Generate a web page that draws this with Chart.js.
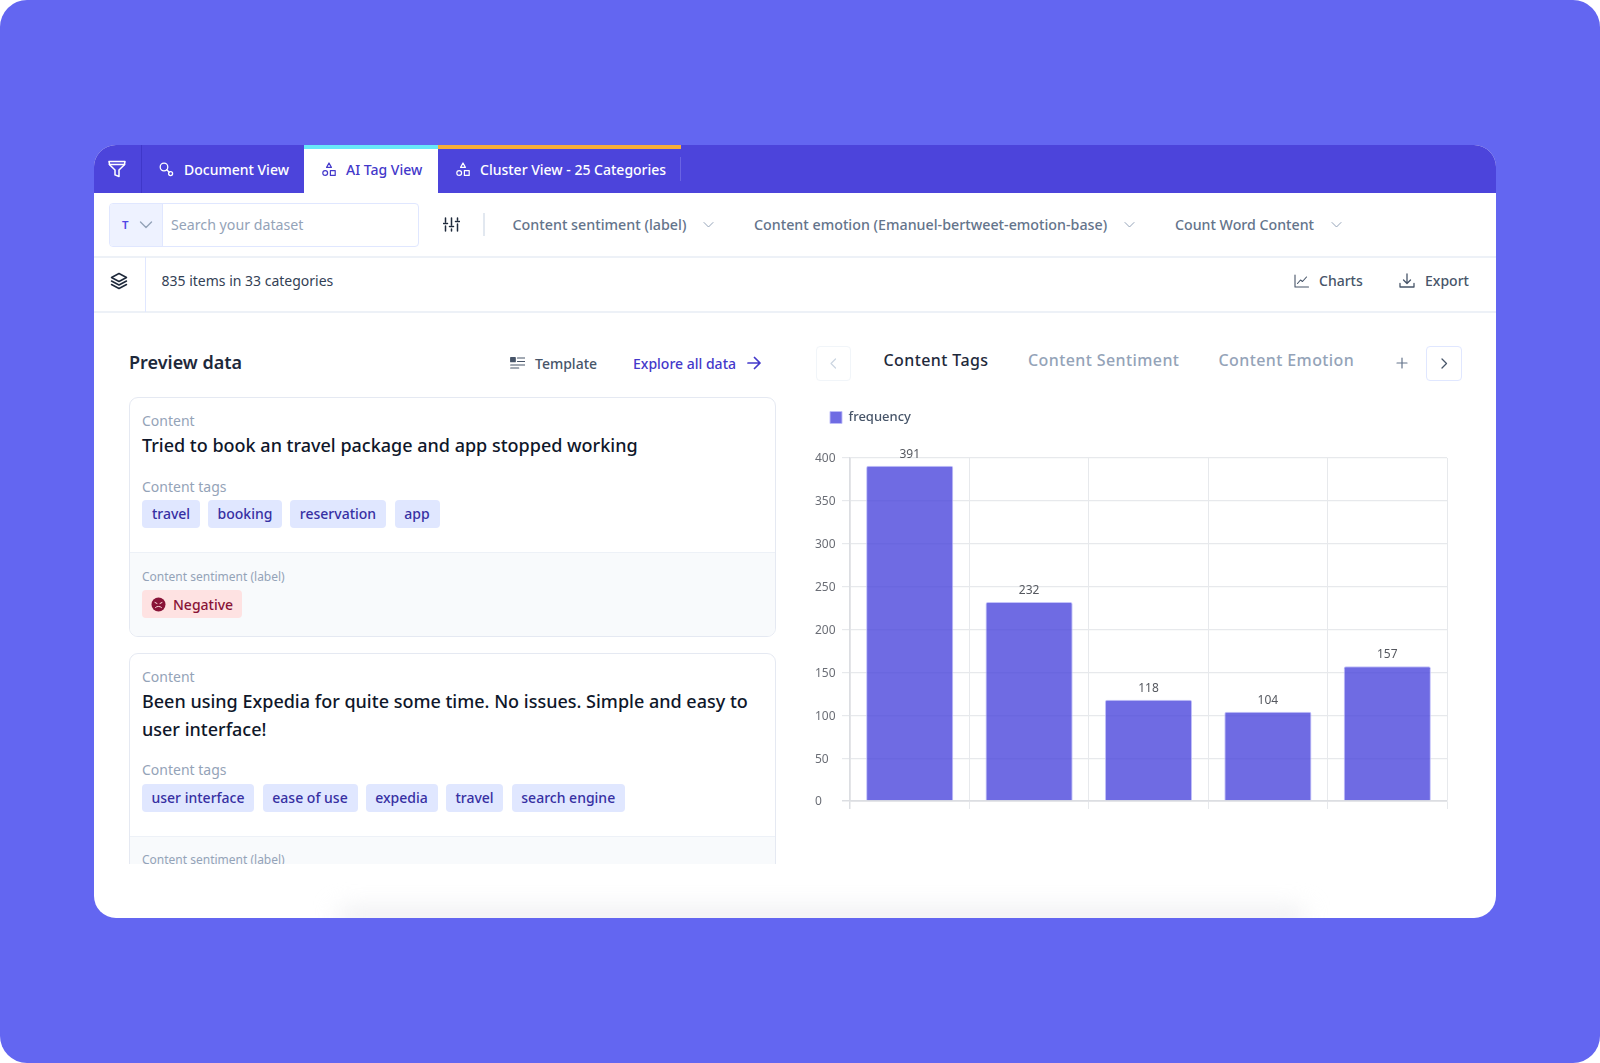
<!DOCTYPE html>
<html>
<head>
<meta charset="utf-8">
<title>AI Tag View</title>
<script src="https://cdn.jsdelivr.net/npm/chart.js@4/dist/chart.umd.min.js"></script>
<style>
html, body { margin: 0; padding: 0; background: #fff; }
body { width: 1600px; height: 1063px; overflow: hidden; position: relative; font-family: "Noto Sans", sans-serif; }
#page { position: absolute; inset: 0; background: #6366f1; border-radius: 27px; overflow: hidden; }
.abs { position: absolute; }
.t { position: absolute; white-space: nowrap; transform: translateY(-50%); line-height: 1.2; }
.box { position: absolute; box-sizing: border-box; }
.chip { position: absolute; box-sizing: border-box; height: 28px; line-height: 28.5px; background: #e0e7ff; color: #3730a3; border-radius: 4px; font-size: 14px; font-weight: 500; text-align: center; white-space: nowrap; }
svg { position: absolute; fill: none; stroke-linecap: round; stroke-linejoin: round; }
#chartWrap { position: absolute; left: 815px; top: 396px; width: 634px; height: 413px; }
</style>
</head>
<body>
<div id="page"></div>

<!-- white card with header band and bottom shadow -->
<div class="abs" style="left:94px;top:145px;width:1402px;height:773px;border-radius:22px;overflow:hidden;background:#fff;">
  <div class="abs" style="left:0;top:0;width:1402px;height:47.500px;background:#4c44db;"></div>
  <div class="abs" style="left:245px;top:766px;width:965px;height:12px;background:#e4e5e9;filter:blur(12px);"></div>
</div>

<!-- tab strip -->
<div class="abs" style="left:141px;top:145px;width:1px;height:47.500px;background:#3f37c9;"></div>
<div class="abs" style="left:304px;top:149px;width:134px;height:44px;background:#fff;"></div>
<div class="abs" style="left:304px;top:145px;width:134px;height:4px;background:#67e8f9;"></div>
<div class="abs" style="left:438px;top:145px;width:243px;height:4px;background:#f6ad37;"></div>
<div class="abs" style="left:680px;top:157px;width:1px;height:24px;background:#6a63e3;"></div>
<svg style="left:108px;top:160px" width="18" height="18" viewBox="0 0 18 18" stroke="#fff" stroke-width="1.5"><path d="M1 1.500h16l-.6 3.200L11 10v6.500l-4-1.600V10L1.600 4.700z"/><path d="M1.400 4.600h15.200"/></svg>
<svg style="left:159px;top:162px" width="15" height="15" viewBox="0 0 15 15" stroke="#fff" stroke-width="1.3"><circle cx="5" cy="5" r="3.800"/><path d="M7.800 7.800l2.400 2.400"/><circle cx="11.600" cy="11.600" r="2"/></svg>
<span class="t" style="left:184px;top:169.500px;font-size:14px;font-weight:500;color:#fff;">Document View</span>
<svg style="left:322px;top:162px" width="14" height="15" viewBox="0 0 14 15" stroke="#4338ca" stroke-width="1.2"><path d="M7 1l2.400 4.400H4.600z"/><circle cx="3.200" cy="11" r="2.400"/><rect x="8.400" y="8.600" width="4.800" height="4.800"/></svg>
<span class="t" style="left:346px;top:169.500px;font-size:14px;font-weight:500;color:#4338ca;">AI Tag View</span>
<svg style="left:456px;top:162px" width="14" height="15" viewBox="0 0 14 15" stroke="#fff" stroke-width="1.2"><path d="M7 1l2.400 4.400H4.600z"/><circle cx="3.200" cy="11" r="2.400"/><rect x="8.400" y="8.600" width="4.800" height="4.800"/></svg>
<span class="t" style="left:480px;top:169.500px;font-size:14px;font-weight:500;color:#fff;">Cluster View - 25 Categories</span>

<!-- toolbar -->
<div class="box" style="left:109px;top:203px;width:310px;height:44px;border:1.500px solid #e0e7ff;border-radius:4px;"></div>
<div class="box" style="left:110px;top:204px;width:53px;height:42px;background:#eef2ff;border-right:1px solid #e0e7ff;border-radius:3px 0 0 3px;"></div>
<span class="t" style="left:122px;top:225px;font-size:11.500px;font-weight:600;color:#4f46e5;">T</span>
<svg style="left:139px;top:220px" width="14" height="10" viewBox="0 0 14 10" stroke="#94a3b8" stroke-width="1.4"><path d="M1.500 2l5.500 5.500L12.500 2"/></svg>
<span class="t" style="left:171px;top:225px;font-size:14.200px;color:#94a3b8;">Search your dataset</span>
<svg style="left:443px;top:217px" width="17" height="15" viewBox="0 0 17 15" stroke="#1e293b" stroke-width="1.5"><path d="M2.500 1v4M2.500 9v5M8.500 1v7M8.500 12v2M14.500 1v2M14.500 7v7M.5 6.500h4M6.500 9.500h4M12.500 4.500h4"/></svg>
<div class="abs" style="left:483px;top:213px;width:1.500px;height:23px;background:#e2e8f0;"></div>
<span class="t" style="left:512.500px;top:225px;font-size:14.300px;font-weight:500;color:#64748b;">Content sentiment (label)</span>
<svg style="left:703px;top:221px" width="11" height="8" viewBox="0 0 11 8" stroke="#94a3b8" stroke-width="1"><path d="M1 1.500l4.500 4.500L10 1.500"/></svg>
<span class="t" style="left:754px;top:225px;font-size:14.280px;font-weight:500;color:#64748b;">Content emotion (Emanuel-bertweet-emotion-base)</span>
<svg style="left:1124px;top:221px" width="11" height="8" viewBox="0 0 11 8" stroke="#94a3b8" stroke-width="1"><path d="M1 1.500l4.500 4.500L10 1.500"/></svg>
<span class="t" style="left:1175px;top:225px;font-size:14.200px;font-weight:500;color:#64748b;">Count Word Content</span>
<svg style="left:1331px;top:221px" width="11" height="8" viewBox="0 0 11 8" stroke="#94a3b8" stroke-width="1"><path d="M1 1.500l4.500 4.500L10 1.500"/></svg>
<div class="abs" style="left:94px;top:256px;width:1402px;height:1.500px;background:#edf1f7;"></div>
<div class="abs" style="left:94px;top:311px;width:1402px;height:1.500px;background:#edf1f7;"></div>
<div class="abs" style="left:145px;top:257px;width:1px;height:55px;background:#e0e7ff;"></div>
<svg style="left:110px;top:272px" width="18" height="18" viewBox="0 0 18 18" stroke="#1e293b" stroke-width="1.5"><path d="M9 1.500l7.500 4-7.500 4-7.500-4zM1.500 9l7.500 4 7.500-4M1.500 12.500l7.500 4 7.500-4"/></svg>
<span class="t" style="left:161.500px;top:281px;font-size:14px;color:#334155;">835 items in 33 categories</span>
<svg style="left:1294px;top:274px" width="15" height="14" viewBox="0 0 15 14" stroke="#475569" stroke-width="1.1"><path d="M1 1v12h13.500M3.500 9.500l3-3.500 2 1.500 4-4.500"/></svg>
<span class="t" style="left:1319px;top:281px;font-size:14px;font-weight:500;color:#475569;">Charts</span>
<svg style="left:1399px;top:273px" width="16" height="16" viewBox="0 0 16 16" stroke="#475569" stroke-width="1.3"><path d="M8 1v9M4.500 7l3.500 3.500L11.500 7M1 10.500v3.500h14v-3.500"/></svg>
<span class="t" style="left:1425px;top:281px;font-size:14px;font-weight:500;color:#475569;">Export</span>

<!-- preview data -->
<span class="t" style="left:129px;top:363px;font-size:18px;font-weight:600;color:#1e293b;">Preview data</span>
<svg style="left:510px;top:357px" width="15" height="12" viewBox="0 0 15 12" stroke="#475569" stroke-width="1.2"><rect x=".7" y=".7" width="4.500" height="4" fill="#475569"/><path d="M7.500 1h7M7.500 4.500h7M.7 8h13.800M.7 11h8"/></svg>
<span class="t" style="left:535px;top:363.500px;font-size:14px;font-weight:500;color:#475569;">Template</span>
<span class="t" style="left:633px;top:363.500px;font-size:14px;font-weight:500;color:#4338ca;">Explore all data</span>
<svg style="left:747px;top:356px" width="14" height="14" viewBox="0 0 14 14" stroke="#4338ca" stroke-width="1.700"><path d="M1 7h12M7.500 1.500L13 7l-5.500 5.500"/></svg>

<div class="box" style="left:129px;top:397px;width:647px;height:240px;border:1.200px solid #e5e9f2;border-radius:9px;overflow:hidden;background:#fff;">
  <div class="abs" style="left:0;top:154px;width:100%;height:90px;background:#f8fafc;border-top:1.500px solid #edf1f7;"></div>
</div>
<span class="t" style="left:142px;top:420.500px;font-size:14px;color:#94a3b8;">Content</span>
<span class="t" style="left:142px;top:446px;font-size:18px;font-weight:500;color:#0f172a;">Tried to book an travel package and app stopped working</span>
<span class="t" style="left:142px;top:486.500px;font-size:14px;color:#94a3b8;">Content tags</span>
<span class="chip" style="left:142px;top:499.500px;width:58px;">travel</span>
<span class="chip" style="left:208px;top:499.500px;width:74px;">booking</span>
<span class="chip" style="left:290px;top:499.500px;width:96px;">reservation</span>
<span class="chip" style="left:394.500px;top:499.500px;width:45px;">app</span>
<span class="t" style="left:142px;top:576.500px;font-size:12px;color:#94a3b8;">Content sentiment (label)</span>
<span class="abs" style="left:142px;top:590px;width:100px;height:28px;background:#fee2e2;border-radius:4px;"></span>
<svg style="left:151px;top:597px" width="15" height="15" viewBox="0 0 15 15"><circle cx="7.500" cy="7.500" r="7" fill="#881337"/><path d="M4.500 10.500c1.500-1.500 4.500-1.500 6 0M4 5.500l2 1M11 5.500l-2 1" stroke="#fee2e2" stroke-width="1"/></svg>
<span class="t" style="left:173px;top:605px;font-size:14px;font-weight:500;color:#881337;">Negative</span>

<div class="abs" style="left:129px;top:653px;width:647px;height:210.500px;overflow:hidden;">
  <div class="box" style="left:0;top:0;width:647px;height:240px;border:1.200px solid #e5e9f2;border-radius:9px;overflow:hidden;background:#fff;">
    <div class="abs" style="left:0;top:181.500px;width:100%;height:60px;background:#f8fafc;border-top:1.500px solid #edf1f7;"></div>
  </div>
  <span class="t" style="left:13px;top:207px;font-size:12px;color:#94a3b8;">Content sentiment (label)</span>
</div>
<span class="t" style="left:142px;top:676.500px;font-size:14px;color:#94a3b8;">Content</span>
<span class="t" style="left:142px;top:702px;font-size:18px;font-weight:500;color:#0f172a;">Been using Expedia for quite some time. No issues. Simple and easy to</span>
<span class="t" style="left:142px;top:730px;font-size:18px;font-weight:500;color:#0f172a;">user interface!</span>
<span class="t" style="left:142px;top:770px;font-size:14px;color:#94a3b8;">Content tags</span>
<span class="chip" style="left:142px;top:784px;width:112px;">user interface</span>
<span class="chip" style="left:262.500px;top:784px;width:95px;">ease of use</span>
<span class="chip" style="left:365.500px;top:784px;width:72px;">expedia</span>
<span class="chip" style="left:446px;top:784px;width:57px;">travel</span>
<span class="chip" style="left:511.500px;top:784px;width:113.500px;">search engine</span>

<!-- chart tabs -->
<div class="box" style="left:816px;top:345.500px;width:35px;height:35px;border:1px solid #f1f5f9;border-radius:4px;"></div>
<svg style="left:829px;top:358px" width="9" height="11" viewBox="0 0 9 11" stroke="#cbd5e1" stroke-width="1.200"><path d="M6.500 1L2 5.500 6.500 10"/></svg>
<span class="t" style="left:883.500px;top:361px;font-size:16px;font-weight:500;letter-spacing:.4px;color:#1e293b;">Content Tags</span>
<span class="t" style="left:1028px;top:361px;font-size:16px;font-weight:500;letter-spacing:.4px;color:#94a3b8;">Content Sentiment</span>
<span class="t" style="left:1218.500px;top:361px;font-size:16px;font-weight:500;letter-spacing:.4px;color:#94a3b8;">Content Emotion</span>
<svg style="left:1396px;top:357px" width="12" height="12" viewBox="0 0 12 12" stroke="#64748b" stroke-width="1.200"><path d="M6 1v10M1 6h10"/></svg>
<div class="box" style="left:1426px;top:345.500px;width:36px;height:35px;border:1.200px solid #e0e7ff;border-radius:4px;"></div>
<svg style="left:1440px;top:358px" width="9" height="11" viewBox="0 0 9 11" stroke="#475569" stroke-width="1.300"><path d="M2 1l4.500 4.500L2 10"/></svg>

<div id="chartWrap"><canvas id="myChart"></canvas></div>

<script>
const categories = ['', '', '', '', ''];
const seriesName = 'frequency';
const frequency = [391, 232, 118, 104, 157];
const yTicks = [0, 50, 100, 150, 200, 250, 300, 350, 400];

const textColor = '#6b6e76';
const gridColor = '#e7e9ec';
const axisColor = '#dcdee2';

// bar value labels, echarts style
const valueLabels = {
    id: 'valueLabels',
    afterDatasetsDraw(chart) {
        const ctx = chart.ctx;
        const meta = chart.getDatasetMeta(0);
        ctx.save();
        ctx.font = '12px "Noto Sans"';
        ctx.fillStyle = '#55585f';
        ctx.textAlign = 'center';
        ctx.textBaseline = 'middle';
        meta.data.forEach((bar, i) => {
            ctx.fillText(String(frequency[i]), bar.x, bar.y - 11.5);
        });
        ctx.restore();
    }
};

// legend keeps its place, chart area starts lower
const legendGap = {
    id: 'legendGap',
    beforeInit(chart) {
        const fit = chart.legend.fit;
        chart.legend.fit = function () {
            fit.bind(this)();
            this.height = 62;
        };
    }
};

new Chart(document.getElementById('myChart').getContext('2d'), {
    type: 'bar',
    data: {
        labels: categories,
        datasets: [{
            label: seriesName,
            data: frequency,
            backgroundColor: 'rgba(75,70,220,0.8)',
            borderColor: 'rgba(190,188,248,0.9)',
            borderWidth: 1,
            borderRadius: 2,
            borderSkipped: 'bottom',
            barPercentage: 0.73,
            categoryPercentage: 1
        }]
    },
    plugins: [valueLabels, legendGap],
    options: {
        responsive: true,
        maintainAspectRatio: false,
        animation: false,
        layout: { padding: { right: 2 } },
        plugins: {
            tooltip: { enabled: false },
            legend: {
                display: true,
                position: 'top',
                align: 'start',
                labels: {
                    boxWidth: 12,
                    boxHeight: 12,
                    padding: 15,
                    color: '#475569',
                    font: { family: '"Noto Sans"', size: 13, weight: '500' }
                }
            }
        },
        scales: {
            x: {
                grid: {
                    color: (c) => (c.index === 0 ? axisColor : gridColor),
                    lineWidth: (c) => (c.index === 0 ? 1.5 : 1),
                    tickLength: 8
                },
                border: { color: axisColor, width: 1.5 },
                ticks: { display: false, autoSkip: false },
                afterFit(scale) { scale.height = 8; }
            },
            y: {
                min: 0,
                max: 400,
                afterBuildTicks(scale) { scale.ticks = yTicks.map((v) => ({ value: v })); },
                grid: {
                    color: (c) => (c.tick && c.tick.value === 0 ? axisColor : gridColor),
                    lineWidth: (c) => (c.tick && c.tick.value === 0 ? 1.5 : 1.2),
                    tickLength: 8
                },
                border: { color: axisColor, width: 1.5 },
                ticks: {
                    color: textColor,
                    crossAlign: 'far',
                    padding: 4,
                    labelOffset: 1,
                    font: { family: '"Noto Sans"', size: 12 }
                },
                afterFit(scale) {
                    scale.width = 35;
                    scale.paddingTop = 0;
                    scale.paddingBottom = 0;
                }
            }
        }
    }
});
</script>
</body>
</html>
